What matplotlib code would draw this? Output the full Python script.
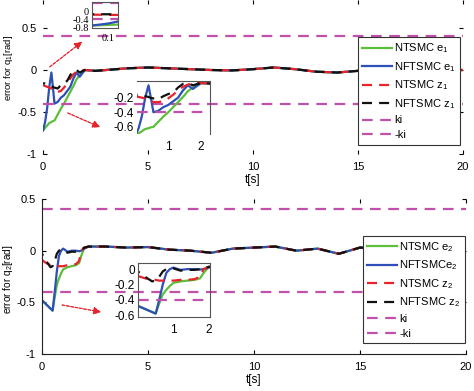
import numpy as np
import matplotlib.pyplot as plt
from matplotlib.lines import Line2D

plt.rcParams['font.family'] = ['Liberation Sans', 'DejaVu Sans']
plt.rcParams['mathtext.fontset'] = 'custom'
plt.rcParams['mathtext.rm'] = 'Liberation Sans'
plt.rcParams['mathtext.it'] = 'Liberation Sans'

# ---- data ----
ki = 0.4

# joint 1, transient (0..2 s)
t1_tr = [0, 0.1, 0.2, 0.3, 0.4, 0.45, 0.55, 0.7, 0.85, 1.0, 1.15, 1.3, 1.45, 1.6, 1.75, 1.9, 2.0]
e1_nt_tr = [-0.72, -0.69, -0.66, -0.63, -0.62, -0.61, -0.6, -0.53, -0.46, -0.4, -0.33, -0.26, -0.19, -0.11, -0.06, -0.02, 0.0]
e1_nft_tr = [-0.72, -0.62, -0.45, -0.2, -0.03, -0.15, -0.4, -0.38, -0.33, -0.3, -0.25, -0.2, -0.1, -0.03, -0.08, -0.03, 0.0]
z1_nt_tr = [-0.18, -0.19, -0.2, -0.21, -0.22, -0.24, -0.26, -0.26, -0.25, -0.21, -0.16, -0.1, -0.05, -0.02, 0.0, 0.0, 0.0]
z1_nft_tr = [-0.16, -0.16, -0.17, -0.18, -0.19, -0.2, -0.21, -0.22, -0.18, -0.15, -0.13, -0.06, -0.01, 0.0, -0.03, -0.01, 0.0]

# joint 1, steady part
t_ss = [2.5, 3, 4, 5, 6, 7, 8, 9, 10, 11, 12, 13, 14, 15, 16, 17, 18, 19, 20]
e1_ss = [-0.01, 0.0, 0.02, 0.03, 0.02, 0.01, 0.0, -0.005, 0.01, 0.03, 0.01, -0.02, -0.03, -0.01, 0.0, 0.01, 0.0, 0.0, 0.0]

# joint 2, transient (0..2 s)
t2_tr = [0, 0.2, 0.4, 0.5, 0.6, 0.7, 0.8, 0.9, 1.0, 1.2, 1.4, 1.6, 1.75, 1.85, 2.0]
e2_nt_tr = [-0.48, -0.52, -0.56, -0.58, -0.45, -0.33, -0.27, -0.22, -0.18, -0.16, -0.15, -0.14, -0.12, -0.05, 0.03]
e2_nft_tr = [-0.48, -0.52, -0.56, -0.58, -0.4, -0.2, -0.05, 0.0, 0.02, -0.01, 0.0, 0.0, -0.005, 0.0, 0.02]
z2_nt_tr = [-0.09, -0.12, -0.14, -0.14, -0.15, -0.15, -0.15, -0.15, -0.15, -0.14, -0.14, -0.13, -0.1, 0.0, 0.03]
z2_nft_tr = [-0.03, -0.1, -0.16, -0.15, -0.1, -0.03, 0.0, 0.01, 0.01, -0.02, -0.01, -0.01, 0.0, 0.01, 0.03]

t2_ss = [2.2, 3, 4, 5, 6, 7, 8, 9, 10, 11, 12, 13, 14, 15, 16, 17, 18, 19, 20]
e2_ss = [0.04, 0.04, 0.03, 0.035, 0.01, 0.0, -0.02, 0.02, 0.03, 0.04, 0.0, 0.02, -0.03, 0.03, 0.02, 0.0, 0.01, 0.0, -0.02]

t1 = np.array(t1_tr + t_ss)
t2 = np.array(t2_tr + t2_ss)
q1 = {
    'NTSMC e$_1$': np.array(e1_nt_tr + e1_ss),
    'NFTSMC e$_1$': np.array(e1_nft_tr + e1_ss),
    'NTSMC z$_1$': np.array(z1_nt_tr + e1_ss),
    'NFTSMC z$_1$': np.array(z1_nft_tr + e1_ss),
}
q2 = {
    'NTSMC e$_2$': np.array(e2_nt_tr + e2_ss),
    'NFTSMCe$_2$': np.array(e2_nft_tr + e2_ss),
    'NTSMC z$_2$': np.array(z2_nt_tr + e2_ss),
    'NFTSMC z$_2$': np.array(z2_nft_tr + e2_ss),
}

green = '#5cbf3a'
blue = '#2e4fb5'
red = '#e8232b'
black = '#111111'
mag = '#c050aa'
dash = (4.5, 3.2)
colors = [green, blue, red, black]
linestyles = ['-', '-', (0, dash), (3.5, dash)]
kistyle = dict(color=mag, lw=1.6, ls=(0, (4.8, 3.4)))


def draw(ax, t, series, with_ki=True):
    for (lab, y), c, ls in zip(series.items(), colors, linestyles):
        ax.plot(t, y, color=c, ls=ls, lw=1.6)
    if with_ki:
        ax.axhline(ki, **kistyle)
        ax.axhline(-ki, **kistyle)


def legend(ax, series, anchor):
    hs = [Line2D([], [], color=c, lw=1.6, ls='-' if i < 2 else (0, dash))
          for i, c in enumerate(colors)]
    hs += [Line2D([], [], **kistyle), Line2D([], [], **kistyle)]
    labels = list(series.keys()) + ['ki', '-ki']
    leg = ax.legend(hs, labels, loc='upper left', bbox_to_anchor=anchor,
                    fontsize=8, handlelength=2.7, handletextpad=0.2,
                    labelspacing=0.42, borderpad=0.4, fancybox=False,
                    framealpha=1, edgecolor='#333333')
    leg.get_frame().set_linewidth(0.8)


def style_inset(ax, spines, fs=8, family=None):
    for s in ['top', 'bottom', 'left', 'right']:
        ax.spines[s].set_visible(s in spines)
        ax.spines[s].set_color('#555555')
        ax.spines[s].set_linewidth(0.8)
    ax.tick_params(length=0, labelsize=fs, pad=2)
    ax.patch.set_alpha(0)
    if family:
        for lb in ax.get_xticklabels() + ax.get_yticklabels():
            lb.set_family(family)


fig = plt.figure(figsize=(4.74, 3.91), dpi=100)

# ---- top plot ----
ax1 = fig.add_axes([0.0907, 0.606, 0.886, 0.394])
draw(ax1, t1, q1)
ax1.set_xlim(0, 20)
ax1.set_ylim(-1, 0.833)
ax1.set_xticks([0, 5, 10, 15, 20])
ax1.set_yticks([-1, -0.5, 0, 0.5])
ax1.set_yticklabels(['-1', '-0.5', '0', '0.5'])
for s in ax1.spines.values():
    s.set_visible(False)
ax1.tick_params(direction='in', length=3, width=0.8, top=True, right=True,
                labelsize=8, pad=4.5)
ax1.tick_params(axis='x', pad=6)
ax1.set_xlabel('t[s]', fontsize=8.5, labelpad=1)
ax1.set_ylabel('error for q$_1$[rad]', fontsize=6.8)
ax1.yaxis.set_label_coords(-0.066, 0.56)
legend(ax1, q1, (0.736, 0.795))

# small inset at top
ins0 = fig.add_axes([0.194, 0.928, 0.055, 0.067])
draw(ins0, t1, q1)
ins0.set_xlim(0, 0.16)
ins0.set_ylim(-0.85, 0.45)
ins0.set_xticks([0.1])
ins0.set_yticks([0, -0.4, -0.8])
ins0.set_yticklabels(['0', '-0.4', '-0.8'])
style_inset(ins0, ['top', 'right', 'bottom', 'left'], fs=7.5, family='Liberation Serif')
ins0.tick_params(axis='x', pad=4)

# inset of the top plot
ins1 = fig.add_axes([0.289, 0.657, 0.154, 0.136])
draw(ins1, t1, q1)
ins1.set_xlim(0.05, 2.27)
ins1.set_ylim(-0.70, 0.03)
ins1.set_xticks([1, 2])
ins1.set_yticks([-0.2, -0.4, -0.6])
ins1.set_yticklabels(['-0.2', '-0.4', '-0.6'])
style_inset(ins1, ['top', 'right'], fs=8.5)
ins1.tick_params(axis='x', pad=5)

# ---- bottom plot ----
ax2 = fig.add_axes([0.0886, 0.0946, 0.8945, 0.3964])
draw(ax2, t2, q2)
ax2.set_xlim(0, 20)
ax2.set_ylim(-1, 0.5)
ax2.set_xticks([0, 5, 10, 15, 20])
ax2.set_yticks([-1, -0.5, 0, 0.5])
ax2.set_yticklabels(['-1', '-0.5', '0', '0.5'])
ax2.spines['top'].set_visible(False)
ax2.spines['right'].set_visible(False)
for s in ['left', 'bottom']:
    ax2.spines[s].set_color('#222222')
    ax2.spines[s].set_linewidth(0.8)
ax2.tick_params(direction='in', length=3, width=0.8, top=True, right=True,
                labelsize=8, pad=4.5)
ax2.tick_params(axis='x', pad=6)
ax2.set_xlabel('t[s]', fontsize=8.5, labelpad=1)
ax2.set_ylabel('error for q$_2$[rad]', fontsize=7.2)
ax2.yaxis.set_label_coords(-0.064, 0.48)
legend(ax2, q2, (0.743, 0.80))

ins2 = fig.add_axes([0.291, 0.189, 0.152, 0.138])
draw(ins2, t2, q2)
ins2.set_xlim(0, 2.03)
ins2.set_ylim(-0.626, 0.078)
ins2.set_xticks([1, 2])
ins2.set_yticks([0, -0.2, -0.4, -0.6])
ins2.set_yticklabels(['0', '-0.2', '-0.4', '-0.6'])
style_inset(ins2, ['top', 'right', 'bottom', 'left'], fs=8.5)
ins2.tick_params(axis='x', pad=5)

# red arrows pointing to the insets
arrow = dict(arrowstyle='-|>', color=red, lw=0.7, ls=(0, (3, 1.5)),
             mutation_scale=11, shrinkA=0, shrinkB=0)
for start, end in [((0.105, 0.829), (0.173, 0.893)),
                   ((0.143, 0.711), (0.211, 0.675)),
                   ((0.131, 0.220), (0.213, 0.202))]:
    fig.add_artist(plt.annotate('', xy=end, xytext=start, xycoords='figure fraction',
                                textcoords='figure fraction', arrowprops=arrow))

plt.savefig('out.png', dpi=100)
